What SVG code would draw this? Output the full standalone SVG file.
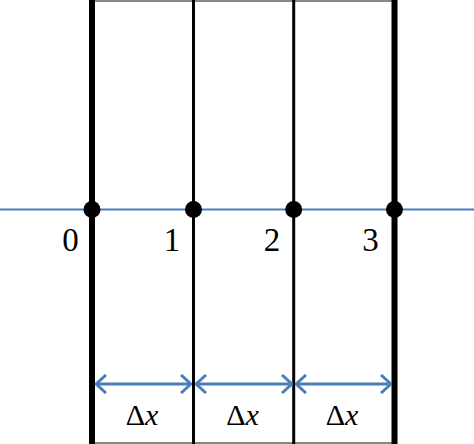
<svg xmlns="http://www.w3.org/2000/svg" width="474" height="444" viewBox="0 0 474 444">
<style>
.thick{stroke:#000;stroke-width:6}
.thin{stroke:#000;stroke-width:3}
.edge{stroke:#888;stroke-width:2}
.axis{stroke:#4a7ebb;stroke-width:2}
.arr{stroke:#4a7ebb;stroke-width:3;fill:none}
.dot{fill:#000}
text{font-family:'Liberation Serif','Times New Roman',serif;fill:#000;text-anchor:middle}
.num{font-size:33px}
.dx{font-size:30px}
</style>
<defs>
<marker id="ah" viewBox="0 0 12 20" refX="11" refY="10" markerWidth="12" markerHeight="20" markerUnits="userSpaceOnUse" orient="auto-start-reverse">
<path d="M1,1 L11,10 L1,19" fill="none" stroke="#4a7ebb" stroke-width="3"/>
</marker>
</defs>
<g id="grid">
<line class="edge" x1="92" y1="1" x2="394" y2="1"/>
<line class="edge" x1="92" y1="443" x2="394" y2="443"/>
<line class="thick" x1="92" y1="0" x2="92" y2="444"/>
<line class="thin" x1="193.5" y1="0" x2="193.5" y2="444"/>
<line class="thin" x1="293.7" y1="0" x2="293.7" y2="444"/>
<line class="thick" x1="394.5" y1="0" x2="394.5" y2="444"/>
<line class="axis" x1="0" y1="209.5" x2="474" y2="209.5"/>
</g>
<g id="node0"><circle class="dot" cx="92" cy="209.5" r="8.5"/><text class="num" x="70.5" y="251">0</text></g>
<g id="node1"><circle class="dot" cx="193.5" cy="209.5" r="8.5"/><text class="num" x="172" y="251">1</text></g>
<g id="node2"><circle class="dot" cx="293.7" cy="209.5" r="8.5"/><text class="num" x="272" y="251">2</text></g>
<g id="node3"><circle class="dot" cx="394.5" cy="209.5" r="8.5"/><text class="num" x="370.5" y="251">3</text></g>
<g id="connectors">
<line class="arr" x1="96" y1="384" x2="191" y2="384" marker-start="url(#ah)" marker-end="url(#ah)"/>
<line class="arr" x1="196" y1="384" x2="292" y2="384" marker-start="url(#ah)" marker-end="url(#ah)"/>
<line class="arr" x1="296" y1="384" x2="391" y2="384" marker-start="url(#ah)" marker-end="url(#ah)"/>
</g>
<g id="labels">
<text class="dx" x="142" y="425">Δ<tspan font-style="italic">x</tspan></text>
<text class="dx" x="242.5" y="425">Δ<tspan font-style="italic">x</tspan></text>
<text class="dx" x="342" y="425">Δ<tspan font-style="italic">x</tspan></text>
</g>
</svg>
